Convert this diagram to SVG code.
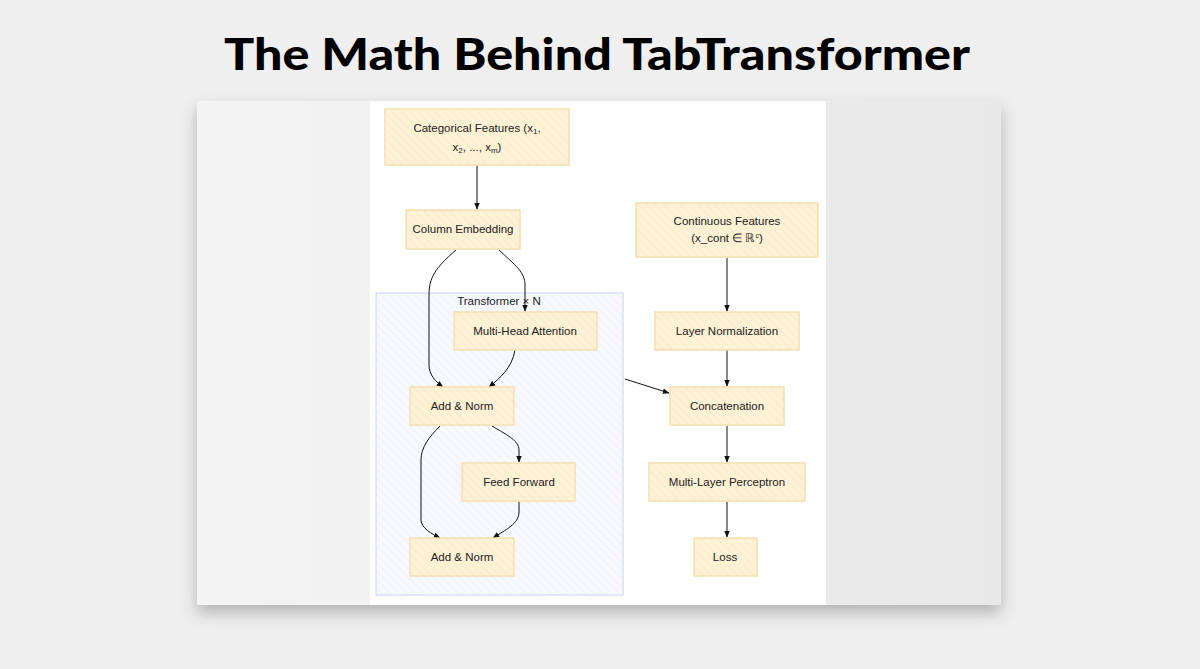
<svg xmlns="http://www.w3.org/2000/svg" width="1200" height="669" viewBox="0 0 1200 669">
<defs>
<linearGradient id="side" x1="0" x2="1"><stop offset="0" stop-color="#f4f4f4"/><stop offset="1" stop-color="#e8e8e8"/></linearGradient>
<pattern id="hatch" width="6" height="6" patternUnits="userSpaceOnUse" patternTransform="rotate(-45)"><line x1="0" y1="0" x2="0" y2="6" stroke="#f7e6bd" stroke-width="1"/></pattern>
<pattern id="bhatch" width="6" height="6" patternUnits="userSpaceOnUse" patternTransform="rotate(-45)"><line x1="0" y1="0" x2="0" y2="6" stroke="#e6ecf7" stroke-width="1"/></pattern>
<filter id="sh" x="-10%" y="-10%" width="120%" height="125%"><feDropShadow dx="0" dy="8" stdDeviation="8" flood-color="#000" flood-opacity="0.25"/></filter>
<marker id="ar" viewBox="0 0 10 10" refX="9" refY="5" markerWidth="7" markerHeight="7" orient="auto"><path d="M0,1 L10,5 L0,9 z" fill="#111"/></marker>
</defs>
<style>
.n rect.b{fill:#fdf1d6;stroke:#f5deae;stroke-width:1.5}
.n rect.h{fill:url(#hatch);stroke:none}
.t{font-family:"Liberation Sans",Arial,sans-serif;font-size:11.5px;fill:#222;text-anchor:middle}
.e path{fill:none;stroke:#111;stroke-width:1;marker-end:url(#ar)}
</style>
<rect width="1200" height="669" fill="#efefef"/>
<text x="597" y="70" font-family="Lato,'DejaVu Sans',sans-serif" font-weight="900" font-size="44" text-anchor="middle" textLength="746" lengthAdjust="spacingAndGlyphs" fill="#000">The Math Behind TabTransformer</text>
<rect x="197" y="101" width="804" height="504" fill="url(#side)" filter="url(#sh)"/>
<rect x="370" y="101" width="456" height="504" fill="#fff"/>
<g id="transformer">
<rect x="376" y="293" width="247" height="302" fill="#f7f9fe" stroke="#c6d4ee" stroke-width="1"/>
<rect x="376" y="293" width="247" height="302" fill="url(#bhatch)"/>
<text class="t" x="499" y="305" fill="#000">Transformer × N</text>
</g>
<g class="e" id="connectors">
<path d="M477,166 L477,209"/>
<path d="M456,250 C435,268 429,278 429,295 L429,365 C429,375 436,382 443,387"/>
<path d="M499,250 C515,265 525,272 525,285 L525,311"/>
<path d="M515,350 C512,368 500,378 489,387"/>
<path d="M440,426 C428,438 421,448 421,460 L421,520 C421,528 432,534 440,538"/>
<path d="M492,426 C505,434 519,440 519,450 L519,462"/>
<path d="M519,502 L519,512 C519,524 505,530 493,538"/>
<path d="M625,379 L669,393"/>
<path d="M727,258 L727,311"/>
<path d="M727,350 L727,386"/>
<path d="M727,426 L727,462"/>
<path d="M727,502 L727,537"/>
</g>
<g class="n" id="n-cat"><rect class="b" x="385" y="109" width="184" height="56"/><rect class="h" x="385" y="109" width="184" height="56"/><text class="t" x="477" y="132">Categorical Features (x<tspan font-size="8" dy="2">1</tspan><tspan dy="-2">,</tspan></text><text class="t" x="477" y="151">x<tspan font-size="8" dy="2">2</tspan><tspan dy="-2">, ..., x</tspan><tspan font-size="8" dy="2">m</tspan><tspan dy="-2">)</tspan></text></g>
<g class="n" id="n-colemb"><rect class="b" x="406" y="210" width="114" height="39"/><rect class="h" x="406" y="210" width="114" height="39"/><text class="t" x="463" y="233">Column Embedding</text></g>
<g class="n" id="n-cont"><rect class="b" x="636" y="203" width="182" height="54"/><rect class="h" x="636" y="203" width="182" height="54"/><text class="t" x="727" y="225">Continuous Features</text><text class="t" x="727" y="242">(x_cont ∈ ℝ<tspan font-size="7" dy="-4">c</tspan><tspan dy="4">)</tspan></text></g>
<g class="n" id="n-mha"><rect class="b" x="454" y="312" width="143" height="38"/><rect class="h" x="454" y="312" width="143" height="38"/><text class="t" x="525" y="335">Multi-Head Attention</text></g>
<g class="n" id="n-ln"><rect class="b" x="655" y="312" width="144" height="38"/><rect class="h" x="655" y="312" width="144" height="38"/><text class="t" x="727" y="335">Layer Normalization</text></g>
<g class="n" id="n-an1"><rect class="b" x="410" y="387" width="104" height="38"/><rect class="h" x="410" y="387" width="104" height="38"/><text class="t" x="462" y="410">Add &amp; Norm</text></g>
<g class="n" id="n-concat"><rect class="b" x="670" y="387" width="114" height="38"/><rect class="h" x="670" y="387" width="114" height="38"/><text class="t" x="727" y="410">Concatenation</text></g>
<g class="n" id="n-ff"><rect class="b" x="462" y="463" width="113" height="38"/><rect class="h" x="462" y="463" width="113" height="38"/><text class="t" x="519" y="486">Feed Forward</text></g>
<g class="n" id="n-mlp"><rect class="b" x="649" y="463" width="156" height="38"/><rect class="h" x="649" y="463" width="156" height="38"/><text class="t" x="727" y="486">Multi-Layer Perceptron</text></g>
<g class="n" id="n-an2"><rect class="b" x="410" y="538" width="104" height="38"/><rect class="h" x="410" y="538" width="104" height="38"/><text class="t" x="462" y="561">Add &amp; Norm</text></g>
<g class="n" id="n-loss"><rect class="b" x="694" y="538" width="63" height="38"/><rect class="h" x="694" y="538" width="63" height="38"/><text class="t" x="725" y="561">Loss</text></g>
</svg>
